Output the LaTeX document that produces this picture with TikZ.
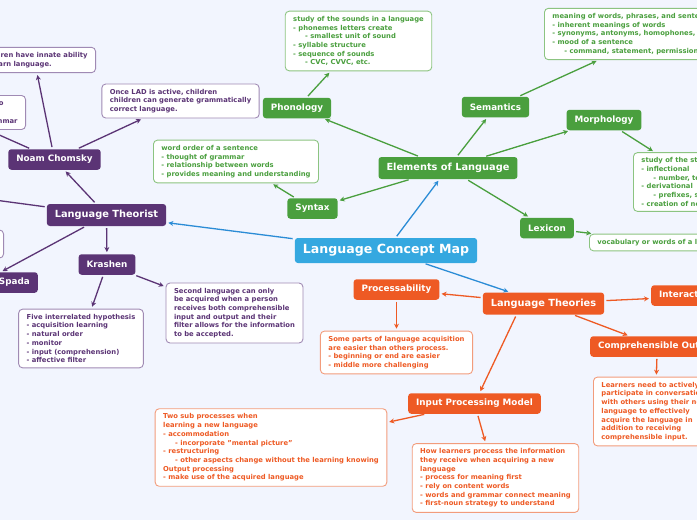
\documentclass[tikz,border=0pt]{standalone}
\usepackage{fontspec}
\setmainfont{DejaVu Sans}
\usetikzlibrary{arrows.meta}
\definecolor{bg}{HTML}{F2F5FE}
\definecolor{cblue}{HTML}{35A8E0}
\definecolor{cbluel}{HTML}{2B8CD6}
\definecolor{cgreen}{HTML}{4A9F3E}
\definecolor{cgreenl}{HTML}{8CC481}
\definecolor{cpurple}{HTML}{5B3475}
\definecolor{cpurplel}{HTML}{A08AB4}
\definecolor{corange}{HTML}{EE5A24}
\definecolor{corangel}{HTML}{F29C7C}
\tikzset{
  mainbox/.style={rounded corners=3pt, text=white, inner xsep=8pt, inner ysep=0pt, minimum height=21pt},
  lvlzero/.style={mainbox, fill=cblue, minimum height=25pt, font=\fontsize{12.6}{14}\selectfont\bfseries},
  lvlone/.style={mainbox, minimum height=22pt, font=\fontsize{9.8}{11}\selectfont\bfseries},
  lvltwo/.style={mainbox, minimum height=20.5pt, font=\fontsize{8.8}{10}\selectfont\bfseries},
  gfill/.style={fill=cgreen}, pfill/.style={fill=cpurple}, ofill/.style={fill=corange},
  desc/.style={draw, fill=white, rounded corners=4pt, line width=0.9pt, align=left, inner xsep=8pt, inner ysep=5pt, font=\fontsize{6.8}{8.7}\selectfont\bfseries},
  gdesc/.style={desc, draw=cgreenl, text=cgreen},
  pdesc/.style={desc, draw=cpurplel, text=cpurple},
  odesc/.style={desc, draw=corangel, text=corange},
  conn/.style={line width=1.3pt, -{Stealth[length=5pt,width=5pt]}, shorten <=2pt, shorten >=2pt},
  gconn/.style={conn, draw=cgreen}, pconn/.style={conn, draw=cpurple},
  oconn/.style={conn, draw=corange}, bconn/.style={conn, draw=cbluel},
}
\newcommand{\ind}{\hspace*{12pt}}
\begin{document}
\begin{tikzpicture}[x=1pt,y=-1pt]
\useasboundingbox (0,0) rectangle (697,520);
\clip (0,0) rectangle (697,520);
\fill[bg] (0,0) rectangle (697,520);

% central
\node[lvlzero] (cmap) at (386,250.5) {Language Concept Map};

% green branch
\node[lvlone, gfill] (elem) at (448,168) {Elements of Language};
\node[lvltwo, gfill] (phon) at (297,108) {Phonology};
\node[lvltwo, gfill] (sem) at (495.5,107) {Semantics};
\node[lvltwo, gfill] (morph) at (604,120) {Morphology};
\node[lvltwo, gfill] (lex) at (547,228) {Lexicon};
\node[lvltwo, gfill] (syn) at (312.5,208.5) {Syntax};

\node[gdesc] (phonD) at (358.5,41) {study of the sounds in a language\\- phonemes letters create\\\ind- smallest unit of sound\\- syllable structure\\- sequence of sounds\\\ind- CVC, CVVC, etc.};
\node[gdesc, anchor=west] (semD) at (544,34) {meaning of words, phrases, and sentences\\- inherent meanings of words\\- synonyms, antonyms, homophones, homonyms, etc.\\- mood of a sentence\\\ind- command, statement, permission, etc.};
\node[gdesc, anchor=west] (morphD) at (633,182) {study of the structure of words\\- inflectional\\\ind- number, tense, etc.\\- derivational\\\ind- prefixes, suffixes\\- creation of new words};
\node[gdesc, anchor=west] (lexD) at (589,242.5) {vocabulary or words of a language};
\node[gdesc] (synD) at (236,161.5) {word order of a sentence\\- thought of grammar\\- relationship between words\\- provides meaning and understanding};

% purple branch
\node[lvlone, pfill] (lth) at (106.5,215) {Language Theorist};
\node[lvltwo, pfill] (chom) at (54.5,159.5) {Noam Chomsky};
\node[lvltwo, pfill] (kra) at (107,264.5) {Krashen};
\node[lvltwo, pfill, anchor=east] (spada) at (38,282.5) {Lightbown \& Spada};
\coordinate (offL) at (-80,190);

\node[pdesc, anchor=east] (cD1) at (96,60) {Children have innate ability\\to learn language.};
\node[pdesc, anchor=east] (cD2) at (26,112.5) {Children use the LAD in order to\\learn and apply\\the principles of universal grammar};
\node[pdesc] (cD3) at (180.5,101) {Once LAD is active, children\\children can generate grammatically\\correct language.};
\node[pdesc, anchor=east, minimum width=100pt, minimum height=28pt] (lbox) at (4,244) {};
\node[pdesc] (kD1) at (81,338.5) {Five interrelated hypothesis\\- acquisition learning\\- natural order\\- monitor\\- input (comprehension)\\- affective filter};
\node[pdesc] (kD2) at (234.5,313) {Second language can only\\be acquired when a person\\receives both comprehensible\\input and output and their\\filter allows for the information\\to be accepted.};

% orange branch
\node[lvlone, ofill] (lts) at (543.5,303.5) {Language Theories};
\node[lvltwo, ofill] (proc) at (396.5,289.5) {Processability};
\node[lvltwo, ofill, anchor=west] (inter) at (651,295.5) {Interaction Hypothesis};
\node[lvltwo, ofill, anchor=west] (cout) at (590,346.5) {Comprehensible Output};
\node[lvltwo, ofill] (ipm) at (474.5,403.5) {Input Processing Model};

\node[odesc] (procD) at (396.5,352.5) {Some parts of language acquisition\\are easier than others process.\\- beginning or end are easier\\- middle more challenging};
\node[odesc, anchor=west] (coutD) at (593,411.5) {Learners need to actively\\participate in conversations\\with others using their new\\language to effectively\\acquire the language in\\addition to receiving\\comprehensible input.};
\node[odesc] (ipmD1) at (271,447.5) {Two sub processes when\\learning a new language\\- accommodation\\\ind- incorporate "mental picture"\\- restructuring\\\ind- other aspects change without the learning knowing\\Output processing\\- make use of the acquired language};
\node[odesc] (ipmD2) at (495.5,478) {How learners process the information\\they receive when acquiring a new\\language\\- process for meaning first\\- rely on content words\\- words and grammar connect meaning\\- first-noun strategy to understand};

% connectors
\draw[bconn] (cmap) -- (elem);
\draw[bconn] (cmap) -- (lth);
\draw[bconn] (cmap) -- (lts);

\draw[gconn] (elem) -- (phon);
\draw[gconn] (elem) -- (sem);
\draw[gconn] (elem) -- (morph);
\draw[gconn] (elem) -- (lex);
\draw[gconn] (elem) -- (syn);
\draw[gconn] (phon) -- (phonD);
\draw[gconn] (sem) -- (semD);
\draw[gconn] (morph) -- (morphD);
\draw[gconn] (lex) -- (lexD);
\draw[gconn] (syn) -- (synD);

\draw[pconn] (lth) -- (chom);
\draw[pconn] (lth) -- (kra);
\draw[pconn] (lth) -- (spada);
\draw[pconn] (lth) -- (offL);
\draw[pconn] (chom) -- (cD1);
\draw[pconn] (chom) -- (cD2);
\draw[pconn] (chom) -- (cD3);
\draw[pconn] (kra) -- (kD1);
\draw[pconn] (kra) -- (kD2);

\draw[oconn] (lts) -- (proc);
\draw[oconn] (lts) -- (inter);
\draw[oconn] (lts) -- (cout);
\draw[oconn] ([xshift=-27pt]lts.south) -- (ipm);
\draw[oconn] (proc) -- (procD);
\draw[oconn] (cout) -- (coutD);
\draw[oconn] (ipm) -- (ipmD1);
\draw[oconn] (ipm) -- (ipmD2);
\end{tikzpicture}
\end{document}
